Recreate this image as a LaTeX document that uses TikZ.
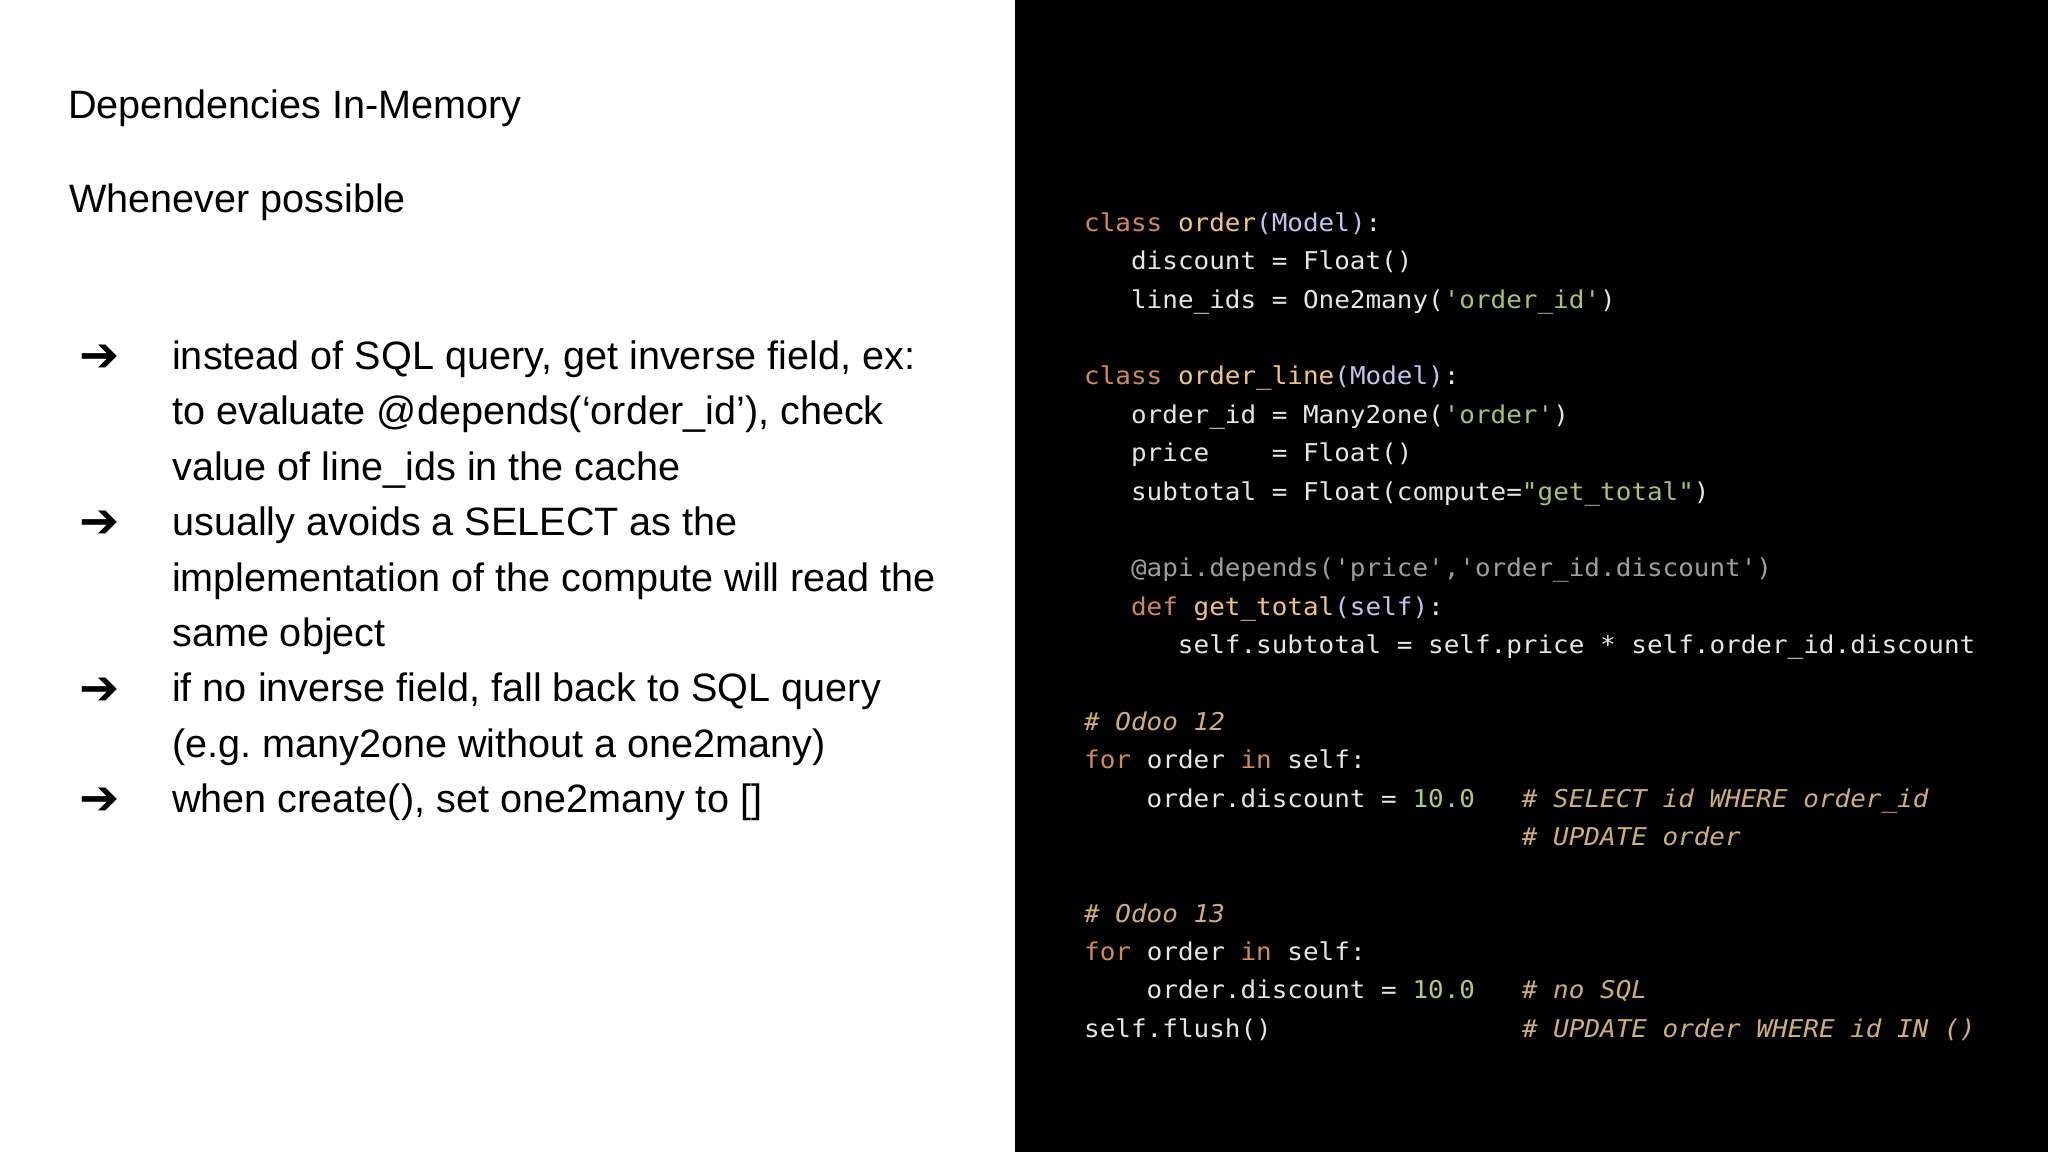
\documentclass[tikz,border=0pt]{standalone}
\usepackage{fontspec}
\setmainfont{Liberation Sans}
\setmonofont{DejaVu Sans Mono}[FakeStretch=1.06]
\newfontfamily\arrowfont{DejaVu Sans}
\frenchspacing

\definecolor{kwcol}{HTML}{CF8A56}
\definecolor{fncol}{HTML}{F2C57C}
\definecolor{mdlcol}{HTML}{C5C3EE}
\definecolor{plaincol}{HTML}{E6E6E6}
\definecolor{strcol}{HTML}{A9C46C}
\definecolor{numcol}{HTML}{B0CB76}
\definecolor{decocol}{HTML}{9E9E9E}
\definecolor{cmntcol}{HTML}{CFAE77}

\newcommand{\kwd}[1]{\textcolor{kwcol}{#1}}
\newcommand{\fnm}[1]{\textcolor{fncol}{#1}}
\newcommand{\mdl}[1]{\textcolor{mdlcol}{#1}}
\newcommand{\strg}[1]{\textcolor{strcol}{#1}}
\newcommand{\numb}[1]{\textcolor{numcol}{#1}}
\newcommand{\deco}[1]{\textcolor{decocol}{#1}}
\newcommand{\cmnt}[1]{\textcolor{cmntcol}{\itshape #1}}

\tikzset{
  slidetext/.style={anchor=base west, inner sep=0pt, text=black, font=\fontsize{39.6}{46}\selectfont},
  code/.style={anchor=base west, inner sep=0pt, text=plaincol, font=\ttfamily\fontsize{24.5}{30}\selectfont},
  bulletarrow/.style={anchor=west, inner sep=0pt, text=black, font=\arrowfont\fontsize{48}{48}\selectfont}
}

\begin{document}
\begin{tikzpicture}[x=1pt,y=-1pt]
  \useasboundingbox (0,0) rectangle (2048,1152);
  % two halves of the slide
  \fill[white] (0,0) rectangle (1015,1152);
  \fill[black] (1015,0) rectangle (2048,1152);

  % left side: heading and bullets
  \node[slidetext] (title) at (68,118.5) {Dependencies In-Memory};
  \node[slidetext] (sub) at (69,212) {Whenever possible};
  \foreach \k/\txt in {
    0/{instead of SQL query, get inverse field, ex:},
    1/{to evaluate @depends(‘order\_id’), check},
    2/{value of line\_ids in the cache},
    3/{usually avoids a SELECT as the},
    4/{implementation of the compute will read the},
    5/{same object},
    6/{if no inverse field, fall back to SQL query},
    7/{(e.g. many2one without a one2many)},
    8/{when create(), set one2many to []}} {
    \node[slidetext] (line\k) at (172,369.5+\k*55.4) {\txt};
  }
  \foreach \k in {0,3,6,8} {
    \node[bulletarrow] (arrow\k) at (79,358.5+\k*55.4) {➔}; % bullet marks
  }

  % right side: the code, row / column / text
  \foreach \r/\c/\txt in {
    0/0/{\kwd{class} \fnm{order}\mdl{(Model)}:},
    1/3/{discount = Float()},
    2/3/{line\_ids = One2many(\strg{'order\_id'})},
    4/0/{\kwd{class} \fnm{order\_line}\mdl{(Model)}:},
    5/3/{order\_id = Many2one(\strg{'order'})},
    6/3/{price~~~~= Float()},
    7/3/{subtotal = Float(compute=\strg{"get\_total"})},
    9/3/{\deco{@api.depends('price','order\_id.discount')}},
    10/3/{\kwd{def} \fnm{get\_total}\mdl{(self)}:},
    11/6/{self.subtotal = self.price * self.order\_id.discount},
    13/0/{\cmnt{\# Odoo 12}},
    14/0/{\kwd{for} order \kwd{in} self:},
    15/4/{order.discount = \numb{10.0}~~~\cmnt{\# SELECT id WHERE order\_id}},
    16/28/{\cmnt{\# UPDATE order}},
    18/0/{\cmnt{\# Odoo 13}},
    19/0/{\kwd{for} order \kwd{in} self:},
    20/4/{order.discount = \numb{10.0}~~~\cmnt{\# no SQL}},
    21/0/{self.flush()~~~~~~~~~~~~~~~~\cmnt{\# UPDATE order WHERE id IN ()}}} {
    \node[code] (code\r) at (1084+\c*15.63,231.5+\r*38.37) {\txt};
  }
\end{tikzpicture}
\end{document}
